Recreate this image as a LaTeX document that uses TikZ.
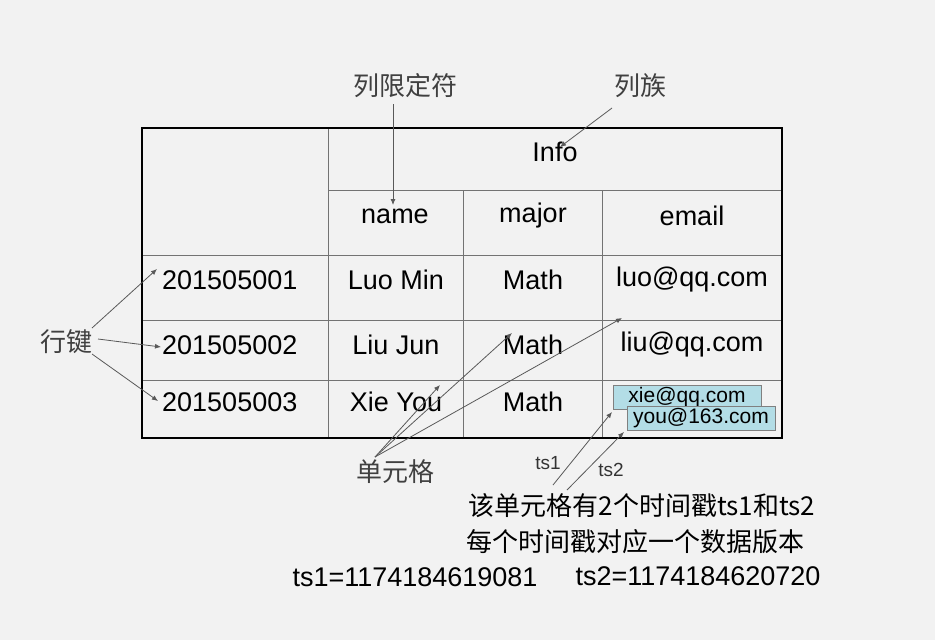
\documentclass[tikz,border=0pt]{standalone}
\usepackage{fontspec}
\setmainfont{Liberation Sans}
\newfontfamily\cjk{Noto Sans CJK SC}
\usetikzlibrary{arrows.meta}
\definecolor{bg}{HTML}{F2F2F2}
\definecolor{cellblue}{HTML}{B3DDE6}
\begin{document}
\begin{tikzpicture}[x=1pt,y=-1pt,
  txt/.style={font=\fontsize{27}{30}\selectfont,inner sep=0pt},
  cn/.style={font=\cjk\fontsize{26}{30}\selectfont,text=black!75,inner sep=1pt},
  cnb/.style={font=\cjk\fontsize{26}{30}\selectfont,text=black,inner sep=1pt},
  ptr/.style={draw=black!65,line width=0.8pt,-{Latex[length=6pt,width=5pt]}},
  thin/.style={draw=black!55,line width=0.8pt},
  vbox/.style={draw=black!50,fill=cellblue,font=\fontsize{21}{22}\selectfont,inner sep=0pt,minimum height=24pt,minimum width=148pt}]
\fill[bg] (0,0) rectangle (935,640);
\useasboundingbox (0,0) rectangle (935,640);
% grid
\draw[thin] (328,190) -- (782,190);
\draw[thin] (142,255) -- (782,255);
\draw[thin] (142,320) -- (782,320);
\draw[thin] (142,380) -- (782,380);
\draw[thin] (328,128) -- (328,438);
\draw[thin] (463,190) -- (463,438);
\draw[thin] (602,190) -- (602,438);
\draw[line width=2pt] (142,128) rectangle (782,438);
% header
\node[txt] (info) at (555,152) {Info};
\node[txt] (name) at (395,216) {name};
\node[txt] (major) at (533,216) {major};
\node[txt] (email) at (692,216) {email};
% rows
\node[txt,anchor=west] (k1) at (162,280) {201505001};
\node[txt,anchor=west] (k2) at (162,345) {201505002};
\node[txt,anchor=west] (k3) at (162,402) {201505003};
\node[txt] (n1) at (396,280) {Luo Min};
\node[txt] (n2) at (396,345) {Liu Jun};
\node[txt] (n3) at (396,402) {Xie You};
\node[txt] (m1) at (533,280) {Math};
\node[txt] (m2) at (533,345) {Math};
\node[txt] (m3) at (533,402) {Math};
\node[txt] (e1) at (692,280) {luo@qq.com};
\node[txt] (e2) at (692,345) {liu@qq.com};
\node[vbox] (x1) at (687,397) {xie@qq.com};
\node[vbox] (x2) at (701,418) {you@163.com};
% labels
\node[cn] (lxd) at (405,86) {列限定符};
\node[cn] (lz) at (640,86) {列族};
\node[cn] (hj) at (66,342) {行键};
\node[cn] (dyg) at (395,472) {单元格};
\node[font=\fontsize{19}{22}\selectfont,text=black!80] (ts1) at (548,463) {ts1};
\node[font=\fontsize{19}{22}\selectfont,text=black!80] (ts2) at (611,470) {ts2};
\node[cnb] (l1) at (642,506) {该单元格有2个时间戳ts1和ts2};
\node[cnb] (l2) at (635,542) {每个时间戳对应一个数据版本};
\node[font=\fontsize{27}{30}\selectfont,inner sep=1pt] (t1) at (415,577) {ts1=1174184619081};
\node[font=\fontsize{27}{30}\selectfont,inner sep=1pt] (t2) at (698,576) {ts2=1174184620720};
% arrows
\coordinate (a1) at (393,205);
\draw[ptr] (393,104) -- (a1);
\draw[ptr] (612,108) -- (560,147);
\draw[ptr] (92,328) -- (157,269);
\draw[ptr] (98,339) -- (161,347);
\draw[ptr] (92,354) -- (158,401);
\coordinate (d0) at (375,457);
\draw[ptr] (d0) -- (440,385);
\draw[ptr] (d0) -- (512,333);
\draw[ptr] (d0) -- (622,318);
\draw[ptr] (553,485) -- (612,412);
\draw[ptr] (567,490) -- (624,432);
\end{tikzpicture}
\end{document}
